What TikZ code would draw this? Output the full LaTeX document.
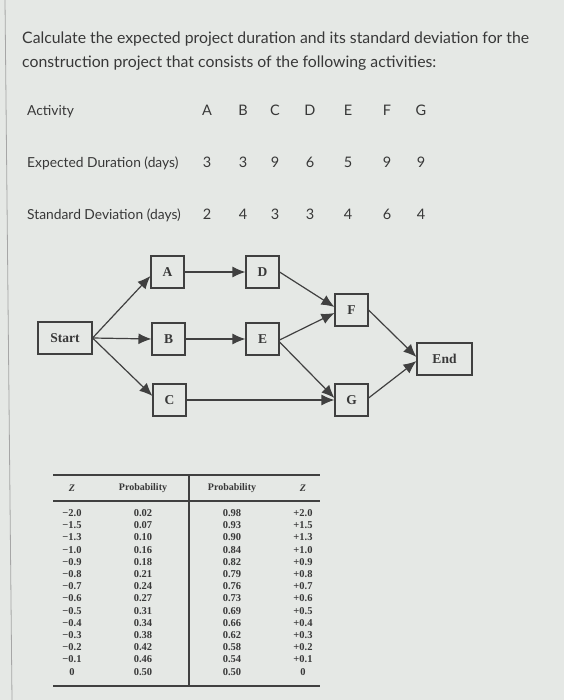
\documentclass[tikz,border=0pt]{standalone}
\usepackage{fontspec}
\setmainfont{Lato}
\newfontfamily\tms{Liberation Serif}
\usetikzlibrary{positioning,arrows.meta}
\definecolor{screen}{rgb}{0.90,0.91,0.90}
\definecolor{ink}{rgb}{0.22,0.22,0.22}
\definecolor{penc}{rgb}{0.25,0.25,0.25}

\begin{document}
\begin{tikzpicture}[
  x=1pt, y=-1pt,
  act/.style={draw=penc, line width=1.1pt, minimum width=33pt, minimum height=32pt, inner sep=0pt, font=\tms\fontsize{13.5}{14}\selectfont\bfseries, text=ink},
  wide/.style={act, minimum width=55pt},
  arr/.style={draw=penc, line width=1.2pt, -{Latex[length=13pt,width=11pt]}},
  qtxt/.style={font=\fontsize{15.8}{18}\selectfont, text=ink, anchor=base west, inner sep=0pt},
  rowtxt/.style={font=\fontsize{13.8}{16}\selectfont, text=ink, anchor=base west, inner sep=0pt},
  val/.style={font=\fontsize{14.5}{16}\selectfont, text=ink, anchor=base, inner sep=0pt},
  tcell/.style={font=\tms\fontsize{10.5}{11}\selectfont\bfseries, text=ink, inner sep=0pt},
  thead/.style={font=\tms\fontsize{10}{11}\selectfont\bfseries, text=ink, inner sep=0pt},
]
\useasboundingbox (0,0) rectangle (564,700);
\fill[screen] (0,0) rectangle (564,700);
\draw[gray!70, line width=0.8pt] (5,0) -- (12,700);

% ---- question ----
\node[qtxt] (q1) at (22,44) {Calculate the expected project duration and its standard deviation for the};
\node[qtxt] (q2) at (22,68) {construction project that consists of the following activities:};

% ---- activity data ----
\node[rowtxt] (hact) at (27,116) {Activity};
\node[rowtxt] (hdur) at (27,168) {Expected Duration (days)};
\node[rowtxt] (hsd) at (27,220) {Standard Deviation (days)};
\foreach \nm/\xx/\du/\sd in {A/207/3/2, B/243/3/4, C/275/9/3, D/310/6/3, E/348/5/4, F/387/9/6, G/421/9/4} {
  \node[val] (l\nm) at (\xx,116) {\nm};
  \node[val] (du\nm) at (\xx,168) {\du};
  \node[val] (sd\nm) at (\xx,220) {\sd};
}

% ---- network ----
\node[wide, minimum width=54pt] (st) at (65,338) {Start};
\node[act] (A) at (167.5,272) {A};
\node[act] (B) at (168.5,339) {B};
\node[act] (C) at (169.5,400) {C};
\node[act] (D) at (262.5,272) {D};
\node[act] (E) at (262.5,339) {E};
\node[act] (F) at (351.5,310) {F};
\node[act] (G) at (351.5,400) {G};
\node[wide] (en) at (444.5,359) {End};
\draw[arr] (st.east) -- ([yshift=-4pt]A.west);
\draw[arr] (st.east) -- (B.west);
\draw[arr] (st.east) -- ([yshift=4pt]C.west);
\draw[arr] (A.east) -- (D.west);
\draw[arr] (B.east) -- (E.west);
\draw[arr] (D.east) -- ([yshift=3pt]F.west);
\draw[arr] ([yshift=-1pt]E.east) -- ([yshift=-3pt]F.west);
\draw[arr] ([yshift=-3pt]E.east) -- ([yshift=2pt]G.west);
\draw[arr] (C.east) -- (G.west);
\draw[arr] (F.east) -- ([yshift=2pt]en.west);
\draw[arr] ([yshift=2pt]G.east) -- ([yshift=-2pt]en.west);

% ---- z table ----
\coordinate (tl) at (53,475);
\coordinate (tr) at (320,475);
\coordinate (ml) at (53,501);
\coordinate (mr) at (320,501);
\coordinate (bl) at (53,686);
\coordinate (br) at (320,686);
\coordinate (vt) at (189,475);
\coordinate (vb) at (189,686);
\draw[penc, line width=1.6pt] (tl) -- (tr);
\draw[penc, line width=1.6pt] (ml) -- (mr);
\draw[penc, line width=1.6pt] (bl) -- (br);
\draw[penc, line width=1.2pt] (vt) -- (vb);
\node[thead] (hz1) at (72,488) {\itshape Z};
\node[thead] (hp1) at (143,488) {Probability};
\node[thead] (hp2) at (232,488) {Probability};
\node[thead] (hz2) at (303,488) {\itshape Z};
\foreach \zn/\pn/\pp/\zp [count=\i] in {−2.0/0.02/0.98/+2.0, −1.5/0.07/0.93/+1.5, −1.3/0.10/0.90/+1.3, −1.0/0.16/0.84/+1.0, −0.9/0.18/0.82/+0.9, −0.8/0.21/0.79/+0.8, −0.7/0.24/0.76/+0.7, −0.6/0.27/0.73/+0.6, −0.5/0.31/0.69/+0.5, −0.4/0.34/0.66/+0.4, −0.3/0.38/0.62/+0.3, −0.2/0.42/0.58/+0.2, −0.1/0.46/0.54/+0.1, 0/0.50/0.50/0} {
  \node[tcell] (zn\i) at (72,{513+12.2*(\i-1)}) {\zn};
  \node[tcell] (pn\i) at (143,{513+12.2*(\i-1)}) {\pn};
  \node[tcell] (pp\i) at (232,{513+12.2*(\i-1)}) {\pp};
  \node[tcell] (zp\i) at (303,{513+12.2*(\i-1)}) {\zp};
}
\end{tikzpicture}
\end{document}
